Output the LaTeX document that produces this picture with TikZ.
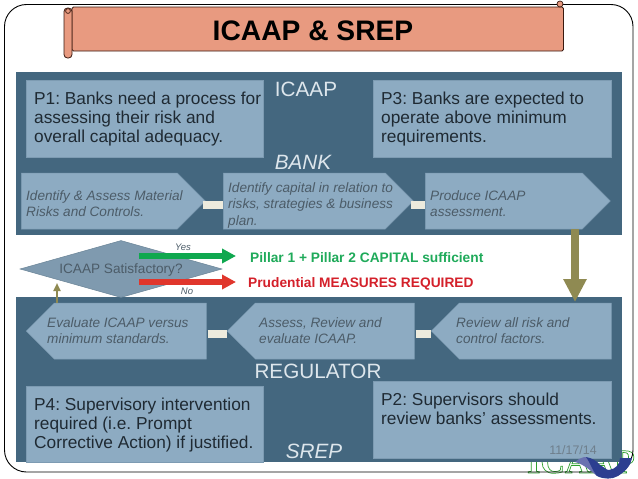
\documentclass[tikz,border=0pt]{standalone}
\usepackage{fontspec}
\setmainfont{Liberation Sans}
\newfontfamily\logofont{Liberation Serif}
\usetikzlibrary{arrows.meta,shapes.geometric,shapes.symbols}
\definecolor{panelc}{HTML}{44677F}
\definecolor{boxc}{HTML}{8DABC2}
\definecolor{boxedge}{HTML}{7D9BB2}
\definecolor{graytxt}{HTML}{4C5C68}
\definecolor{darktxt}{HTML}{1F2A33}
\definecolor{labelc}{HTML}{DDE6EC}
\definecolor{creamc}{HTML}{EDEBDD}
\definecolor{olivec}{HTML}{8F8A52}
\definecolor{scrollc}{HTML}{E89A80}
\definecolor{scrolle}{HTML}{3A1A10}
\definecolor{greenc}{HTML}{0FA84F}
\definecolor{redc}{HTML}{E0362C}
\definecolor{greent}{HTML}{1FAA5A}
\definecolor{redt}{HTML}{D4202A}
\definecolor{logog}{HTML}{2FA02F}
\definecolor{swooshl}{HTML}{6A72B0}
\definecolor{swooshd}{HTML}{2C3E90}
\definecolor{datec}{HTML}{6F7F8C}
\tikzset{
  panel/.style={fill=panelc,draw=none},
  pbox/.style={rectangle,fill=boxc,draw=boxedge,line width=.6pt,inner sep=0pt,anchor=north west},
  ptext/.style={anchor=north west,inner sep=0pt,align=left,text=darktxt,font=\frenchspacing\fontsize{17.3}{18.7}\selectfont},
  stext/.style={anchor=north west,inner sep=0pt,align=left,text=graytxt,font=\fontsize{13.6}{16.5}\selectfont\itshape},
  hdr/.style={inner sep=0pt,text=labelc,font=\fontsize{20.7}{22}\selectfont},
  sigr/.style={shape=signal,signal to=east,signal from=nowhere,signal pointer angle=90,fill=boxc,draw=boxedge,line width=.5pt,inner sep=0pt,minimum width=#1,minimum height=56pt,anchor=west},
  sigl/.style={shape=signal,signal to=west,signal from=nowhere,signal pointer angle=90,fill=boxc,draw=boxedge,line width=.5pt,inner sep=0pt,minimum width=#1,minimum height=56pt,anchor=west},
  link/.style={draw=creamc,line width=8pt},
  bigarrow/.style={draw=olivec,line width=7.5pt,-{Triangle[length=23pt,width=22pt]}},
  smallarrow/.style={draw=olivec,line width=2pt,-{Triangle[length=8pt,width=7pt]}},
  yesno/.style={draw=#1,line width=6pt,-{Triangle[length=14pt,width=14pt]}},
  tiny/.style={inner sep=0pt,text=graytxt,font=\fontsize{9.5}{11}\selectfont\itshape}
}
\begin{document}
\begin{tikzpicture}[x=1pt,y=-1pt]
\useasboundingbox (0,0) rectangle (638,479);
\fill[white] (0,0) rectangle (638,479);
% logo behind everything
\node[anchor=base west,inner sep=0pt,text=logog,font=\logofont\bfseries\fontsize{34}{34}\selectfont] (logo) at (527,473) {\special{pdf:code 0.7 w 1 Tr}ICAAP\special{pdf:code 0 Tr}};
% frame
\draw[black,line width=.9pt,rounded corners=22pt] (4.5,4.5) rectangle (633,472);
% title scroll
\draw[fill=scrollc,draw=scrolle,line width=.8pt,rounded corners=1.5pt] (72,7) -- (563.5,7) -- (563.5,51) -- (72,51) -- cycle;
\draw[fill=scrollc,draw=scrolle,line width=.8pt,rounded corners=3.5pt] (64,8) rectangle (72,58);
\draw[draw=scrolle,fill=scrollc,line width=.7pt] (68,11) circle (2.4pt);
\draw[draw=scrolle,fill=scrollc,line width=.7pt] (560,4) circle (3pt);
\node[inner sep=0pt,font=\bfseries\fontsize{28.2}{30}\selectfont,text=black] (title) at (313,31) {ICAAP \& SREP};
% panels
\fill[panel] (16,72) rectangle (622,235);
\fill[panel] (16,297) rectangle (622,462);
% principle boxes
\node[pbox,minimum width=237pt,minimum height=77pt] (p1) at (26,80) {};
\node[pbox,minimum width=238pt,minimum height=77pt] (p3) at (373,80) {};
\node[pbox,minimum width=237pt,minimum height=76pt] (p4) at (26,386) {};
\node[pbox,minimum width=238pt,minimum height=77pt] (p2) at (373,381) {};
\node[ptext] (p1t) at (34,92) {P1: Banks need a process for\\assessing their risk and\\overall capital adequacy.};
\node[ptext] (p3t) at (381,92) {P3: Banks are expected to\\operate above minimum\\requirements.};
\node[ptext] (p4t) at (34,398) {P4: Supervisory intervention\\required (i.e. Prompt\\Corrective Action) if justified.};
\node[ptext] (p2t) at (381,393) {P2: Supervisors should\\review banks' assessments.};
\node[inner sep=0pt,text=datec,font=\fontsize{12.4}{14}\selectfont] (date) at (573,450) {11/17/14};
% headers
\node[hdr] (h1) at (306,89) {ICAAP};
\node[hdr,font=\fontsize{20.7}{22}\selectfont\itshape] (h2) at (303,162.5) {BANK};
\node[hdr] (h3) at (318,371) {REGULATOR};
\node[hdr,font=\fontsize{20.7}{22}\selectfont\itshape] (h4) at (314,451) {SREP};
% process top
\node[sigr=184pt] (a1) at (21,201) {};
\node[sigr=190pt] (a2) at (223,201) {};
\node[sigr=185pt] (a3) at (425,201) {};
\draw[link] (a1.east) ++(-3,3.5) -- (a2.west |- 0,204.5);
\draw[link] (a2.east) ++(-3,3.5) -- (a3.west |- 0,204.5);
\node[stext] (a1t) at (26,190) {Identify \& Assess Material\\Risks and Controls.};
\node[stext] (a2t) at (228,182) {Identify capital in relation to\\risks, strategies \& business\\plan.};
\node[stext] (a3t) at (430,190) {Produce ICAAP\\assessment.};
% process bottom
\node[sigl=180pt] (b1) at (26,331) {};
\node[sigl=187pt] (b2) at (227,331) {};
\node[sigl=180pt] (b3) at (431,331) {};
\draw[link] (b1.east) ++(1,3) -- (b2.west |- 0,334);
\draw[link] (b2.east) ++(1,3) -- (b3.west |- 0,334);
\node[stext] (b1t) at (47,317) {Evaluate ICAAP versus\\minimum standards.};
\node[stext] (b2t) at (259,317) {Assess, Review and\\evaluate ICAAP.};
\node[stext] (b3t) at (456,317) {Review all risk and\\control factors.};
% decision
\node[shape=diamond,aspect=3.5,fill=boxc!90!black,draw=boxedge!85!black,line width=.5pt,inner sep=0pt,minimum width=202pt,minimum height=57pt] (d) at (121,269) {};
\node[inner sep=0pt,text=graytxt,font=\fontsize{13.6}{15}\selectfont] (dt) at (121,270) {ICAAP Satisfactory?};
% outcomes
\coordinate (gs) at (139,256); \coordinate (ge) at (236,256);
\coordinate (rs) at (139,282); \coordinate (re) at (236,282);
\draw[yesno=greenc] (gs) -- (ge);
\draw[yesno=redc] (rs) -- (re);
\node[tiny] (yes) at (183,247) {Yes};
\node[tiny] (no) at (187,291) {No};
\node[anchor=west,inner sep=0pt,text=greent,font=\bfseries\fontsize{13.75}{15}\selectfont] (suff) at (250,258) {Pillar 1 + Pillar 2 CAPITAL sufficient};
\node[anchor=west,inner sep=0pt,text=redt,font=\bfseries\fontsize{13.75}{15}\selectfont] (meas) at (248,284) {Prudential MEASURES REQUIRED};
% olive arrows
\coordinate (os) at (575,229); \coordinate (oe) at (575,302);
\draw[bigarrow] (os) -- (oe);
\coordinate (ss) at (57,303); \coordinate (se) at (57,283);
\draw[smallarrow] (ss) -- (se);
% swoosh
\fill[swooshl] (575,462) .. controls (580,458) and (583,457) .. (586,457) .. controls (592,459) and (596,466) .. (602,470) -- (597,476) .. controls (590,470) and (583,464) .. (575,462) -- cycle;
\fill[swooshd] (597,476) .. controls (604,479.5) and (612,479.5) .. (618,476) .. controls (626,471) and (631,465) .. (632,458) -- (620,458) .. controls (620,464) and (616,469) .. (609,470) .. controls (606,470) and (604,467) .. (600,465) .. controls (597,461) and (592,458) .. (586,457) .. controls (590,462) and (592,470) .. (597,476) -- cycle;
\end{tikzpicture}
\end{document}
